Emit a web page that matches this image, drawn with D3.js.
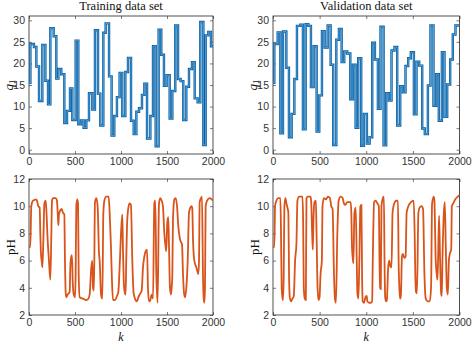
<!DOCTYPE html>
<html>
<head>
<meta charset="utf-8">
<script src="https://cdn.jsdelivr.net/npm/d3@7/dist/d3.min.js"></script>
<style>
  body { margin: 0; background: #fff; }
  svg { display: block; }
  .tick text { font-family: "Liberation Sans", Arial, sans-serif; font-size: 10.5px; fill: #333; }
  .title { font-family: "Liberation Serif", "DejaVu Serif", serif; font-size: 12.5px; fill: #111; }
  .ylab, .xlab { font-family: "Liberation Serif", "DejaVu Serif", serif; fill: #111; }
</style>
</head>
<body>
<div id="chart"></div>
<script>
// Input q1: step starts [k, level] for each experiment
const trainK = [0, 15, 54, 80, 109, 145, 178, 207, 232, 268, 297, 319, 351, 384, 413, 446, 471, 507, 536, 565, 594, 623, 652, 688, 717, 750, 775, 808, 833, 870, 898, 927, 956, 985, 1014, 1047, 1076, 1109, 1138, 1167, 1196, 1228, 1254, 1283, 1319, 1348, 1377, 1409, 1438, 1467, 1496, 1529, 1558, 1590, 1620, 1648, 1677, 1710, 1739, 1772, 1801, 1833, 1862, 1895, 1920, 1949, 1978];
const trainQ = [15.5, 24.5, 23.8, 19.3, 11.3, 24.3, 16, 10.5, 28.2, 26.3, 16.5, 18.7, 17.5, 6.2, 9, 14.2, 6.9, 25.3, 5.9, 6.8, 5.1, 6.8, 13.1, 9.3, 27.7, 13, 5.6, 27.1, 29.3, 17, 3.3, 7.8, 12.2, 17.8, 7.8, 18, 21.3, 6.7, 3.6, 8.8, 9.6, 12.7, 15.3, 2.6, 7.8, 24, 0.8, 27.8, 22, 14.8, 17.3, 7.2, 13.6, 28.8, 16.4, 15.9, 6.9, 14.6, 18.7, 20.3, 11.9, 11, 29.6, 1.1, 26.5, 27.3, 24];

const validK = [0, 14, 50, 79, 107, 143, 171, 200, 229, 257, 293, 321, 350, 379, 407, 436, 468, 496, 525, 554, 586, 618, 646, 679, 707, 736, 764, 796, 829, 857, 886, 914, 946, 975, 1007, 1036, 1064, 1093, 1125, 1153, 1186, 1214, 1243, 1271, 1303, 1332, 1364, 1393, 1421, 1450, 1478, 1511, 1539, 1568, 1600, 1628, 1661, 1689, 1721, 1750, 1778, 1811, 1839, 1868, 1900, 1928, 1957];
const validQ = [15.5, 24.5, 27.2, 3.8, 27.4, 19, 2.9, 8.3, 16.4, 28.7, 29, 4.7, 29.1, 28.7, 14.5, 24, 4.2, 12.6, 27.5, 23.7, 28.8, 19.7, 1.1, 25.5, 28, 20.3, 22.8, 22.3, 11.7, 19.7, 5.1, 21.2, 0.9, 8.3, 1.4, 2.9, 24.8, 20.9, 9.5, 28.5, 1, 13.1, 11.4, 23, 23.8, 5.6, 14.7, 13.3, 19.4, 21.2, 22.6, 8.2, 20.4, 19.5, 4.9, 3.6, 14.9, 28.8, 10.2, 17.5, 6.7, 22.6, 7.6, 15.1, 20.9, 26.7, 28.8];

// Output pH samples [k, pH]
const trainPH = [[0,7.0],[14,7.0],[25,10.0],[43,10.4],[80,10.5],[87,10.4],[101,10.0],[116,9.9],[123,8],[130,6.5],[141,5.8],[145,5.5],[156,7.5],[167,10.2],[181,10.4],[188,9.8],[203,7.5],[217,6],[232,4.6],[243,8],[250,10.4],[261,10.6],[290,10.6],[304,10.4],[312,9.5],[319,8.6],[326,9.4],[341,9.7],[355,9.8],[370,9.5],[384,9.4],[391,6],[399,3.6],[406,3.3],[420,3.5],[442,3.7],[449,5.5],[457,6.2],[467,6.4],[475,4.5],[486,3.5],[500,3.3],[507,5],[514,10],[525,10.5],[533,10.2],[540,5],[551,3.3],[587,3.2],[623,3.1],[645,3.2],[659,3.5],[677,5.5],[688,6.0],[696,4.0],[706,3.8],[717,10.3],[732,10.6],[746,10],[761,6.5],[768,6],[783,3.5],[797,3.2],[808,9.5],[822,10.5],[840,10.7],[866,10.7],[877,9.5],[891,7],[902,4.5],[913,3.1],[935,3.1],[956,3.4],[971,3.7],[985,5.5],[1000,8],[1014,9.4],[1021,7],[1032,4.2],[1043,3.6],[1050,3.5],[1057,6],[1068,9],[1083,10],[1094,10.2],[1108,10.1],[1123,6],[1137,3.6],[1159,3.1],[1174,3.0],[1188,3.3],[1203,3.5],[1225,3.8],[1239,5.5],[1254,6.3],[1268,6.7],[1283,6.8],[1293,4],[1304,3],[1319,3.1],[1333,3.5],[1348,3.2],[1362,10.2],[1373,10.4],[1384,5],[1398,2.9],[1413,10.2],[1427,10.6],[1442,10.4],[1456,10],[1471,8],[1485,7],[1492,6.7],[1503,8.8],[1514,9.2],[1522,7],[1532,4],[1543,3.5],[1551,4],[1558,5],[1565,9],[1580,10.5],[1594,10.6],[1609,10],[1623,8.5],[1638,7.7],[1649,7.4],[1663,7.2],[1674,5],[1685,3.6],[1696,3.3],[1710,4],[1725,6],[1739,9.5],[1754,9.9],[1768,10.0],[1775,9.8],[1783,7.5],[1797,6],[1819,5.5],[1841,5],[1848,6],[1855,10.3],[1870,10.6],[1880,10.7],[1891,5],[1899,3.2],[1906,2.9],[1913,4],[1920,10],[1935,10.4],[1964,10.6],[1986,10.5],[2000,10.4]];

const validPH = [[0,7.0],[14,7.0],[22,10],[36,10.4],[57,10.6],[79,10.6],[86,8],[93,4],[101,3.3],[108,3.1],[115,5],[122,10],[133,10.6],[144,10.2],[158,9.8],[165,9.5],[172,5],[180,3.3],[194,3.0],[208,3.2],[223,3.4],[237,6],[251,7.2],[262,10.4],[280,10.7],[316,10.7],[323,9],[330,4],[341,3.2],[352,3.1],[359,10.6],[373,10.7],[402,10.7],[409,10.4],[420,8],[427,6.8],[434,9],[445,10.3],[460,10.4],[467,8],[478,4],[488,3.1],[499,3.3],[510,5],[524,6],[531,10],[546,10.6],[567,10.5],[589,10.7],[610,10.6],[625,10],[639,9.8],[654,5],[664,3.2],[675,2.9],[690,8],[704,10.4],[725,10.7],[747,10.6],[761,10.2],[776,10.1],[797,10.3],[833,10.3],[840,9.5],[847,7],[855,6.2],[862,5.8],[873,9.5],[887,9.9],[898,6],[905,3.6],[916,3.2],[926,6],[937,10],[948,10.1],[955,5],[962,3],[977,2.9],[991,3.3],[1005,3.4],[1012,3.0],[1030,2.9],[1048,2.9],[1063,3.0],[1070,6],[1084,10.3],[1099,10.4],[1120,10.2],[1135,10],[1142,6],[1149,4],[1156,3.9],[1163,10],[1178,10.6],[1189,10.7],[1196,6],[1203,3.3],[1214,3],[1221,3.1],[1235,5.5],[1246,6.0],[1257,5.6],[1271,5.5],[1282,9.5],[1300,10.2],[1322,10.4],[1340,10.4],[1347,6],[1358,3.6],[1365,3.2],[1372,3.5],[1383,6.3],[1393,6.5],[1408,6.2],[1422,6.3],[1433,9.5],[1451,10.0],[1480,10.3],[1509,10.4],[1519,8],[1526,5],[1534,3.7],[1544,3.6],[1559,9.5],[1573,9.9],[1595,10.0],[1609,9.8],[1624,5],[1638,3.2],[1659,3.0],[1681,3.0],[1695,4],[1706,10.2],[1724,10.7],[1731,10.4],[1745,6],[1756,5],[1763,4.6],[1770,6],[1781,9.3],[1792,6],[1803,3.6],[1810,3.4],[1817,6],[1832,9.5],[1842,10.3],[1853,7],[1864,4],[1875,3.5],[1886,6],[1896,6.5],[1911,6.8],[1918,10],[1932,10.2],[1954,10.5],[1982,10.7],[2000,10.8]];

const kTicks = [0, 500, 1000, 1500, 2000];
const qTicks = [0, 5, 10, 15, 20, 25, 30];
const phTicks = [2, 4, 6, 8, 10, 12];

const W = 474, H = 345;
const svg = d3.select("#chart").append("svg").attr("width", W).attr("height", H);

const cols = [{ x0: 29, x1: 213 }, { x0: 273, x1: 459.5 }];
const rows = [{ y0: 16, y1: 154 }, { y0: 179, y1: 315 }];

function stepPoints(ks, vs) {
  const pts = ks.map((k, i) => [k, vs[i]]);
  pts.push([2000, vs[vs.length - 1]]);
  return pts;
}

function panel(col, row, opts) {
  const x = d3.scaleLinear().domain([0, 2000]).range([col.x0, col.x1]);
  const y = d3.scaleLinear().domain(opts.yDomain).range([row.y1, row.y0]);
  const g = svg.append("g");

  // axes with inward ticks, box on all four sides
  const ax = (a) => a.tickSizeInner(-3).tickSizeOuter(0).tickPadding(4);
  g.append("g").attr("transform", `translate(0,${row.y1})`)
    .call(ax(d3.axisBottom(x).tickValues(kTicks).tickFormat(d3.format("d"))));
  g.append("g").attr("transform", `translate(0,${row.y0})`)
    .call(ax(d3.axisTop(x).tickValues(kTicks).tickFormat("")));
  g.append("g").attr("transform", `translate(${col.x0},0)`)
    .call(ax(d3.axisLeft(y).tickValues(opts.yTicks)));
  g.append("g").attr("transform", `translate(${col.x1},0)`)
    .call(ax(d3.axisRight(y).tickValues(opts.yTicks).tickFormat("")));
  g.selectAll(".domain").remove();
  g.selectAll(".tick line").attr("stroke", "#262626").attr("stroke-width", 0.6);
  g.append("rect").attr("x", col.x0).attr("y", row.y0)
    .attr("width", col.x1 - col.x0).attr("height", row.y1 - row.y0)
    .attr("fill", "none").attr("stroke", "#262626").attr("stroke-width", 0.8);

  const clip = "clip" + Math.round(col.x0) + "_" + Math.round(row.y0);
  svg.append("clipPath").attr("id", clip).append("rect")
    .attr("x", col.x0).attr("y", row.y0 - 2)
    .attr("width", col.x1 - col.x0).attr("height", row.y1 - row.y0 + 4);

  const lines = g.append("g").attr("clip-path", `url(#${clip})`);
  if (opts.step) {
    const line = d3.line().x(d => x(d[0])).y(d => y(d[1])).curve(d3.curveStepAfter);
    const pts = stepPoints(opts.k, opts.v);
    lines.append("path").attr("d", line(pts)).attr("fill", "none")
      .attr("stroke", "#0e5c9e").attr("stroke-width", 2.4).attr("stroke-linejoin", "miter");
    lines.append("path").attr("d", line(pts)).attr("fill", "none")
      .attr("stroke", "#58b2ea").attr("stroke-width", 0.8);
  } else {
    const line = d3.line().x(d => x(d[0])).y(d => y(d[1])).curve(d3.curveMonotoneX);
    lines.append("path").attr("d", line(opts.pts)).attr("fill", "none")
      .attr("stroke", "#d9541a").attr("stroke-width", 1.8).attr("stroke-linejoin", "round");
  }

  const cx = (col.x0 + col.x1) / 2;
  if (opts.title) {
    svg.append("text").attr("class", "title").attr("x", cx).attr("y", 10)
      .attr("text-anchor", "middle").text(opts.title);
  }
  if (opts.xlab) {
    svg.append("text").attr("class", "xlab").attr("x", cx).attr("y", 341)
      .attr("text-anchor", "middle").attr("font-size", 12).attr("font-style", "italic").text("k");
  }
  const ly = (row.y0 + row.y1) / 2;
  const off = opts.ylab === "q" ? 16 : 14;
  const yl = svg.append("text").attr("class", "ylab")
    .attr("transform", `translate(${col.x0 - off},${ly}) rotate(-90)`)
    .attr("text-anchor", "middle").attr("font-size", 13);
  if (opts.ylab === "q") {
    yl.append("tspan").attr("font-style", "italic").text("q");
    yl.append("tspan").attr("font-size", 9).attr("dy", 2).text("1");
  } else {
    yl.text("pH");
  }
}

panel(cols[0], rows[0], { step: true, k: trainK, v: trainQ, yDomain: [-1, 31], yTicks: qTicks, title: "Training data set", ylab: "q" });
panel(cols[1], rows[0], { step: true, k: validK, v: validQ, yDomain: [-1, 31], yTicks: qTicks, title: "Validation data set", ylab: "q" });
panel(cols[0], rows[1], { step: false, pts: trainPH, yDomain: [2, 12], yTicks: phTicks, xlab: true, ylab: "pH" });
panel(cols[1], rows[1], { step: false, pts: validPH, yDomain: [2, 12], yTicks: phTicks, xlab: true, ylab: "pH" });
</script>
</body>
</html>
